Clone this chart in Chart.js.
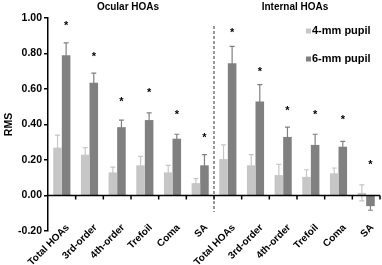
<!DOCTYPE html>
<html>
<head>
<meta charset="utf-8">
<script src="https://cdn.jsdelivr.net/npm/chart.js@4/dist/chart.umd.min.js"></script>
<style>
  html, body { margin: 0; padding: 0; background: #fff; }
  #wrap { width: 382px; height: 265px; }
</style>
</head>
<body>
<div id="wrap"><canvas id="c" width="382" height="265"></canvas></div>
<script>
// categories: 6 ocular, then 6 internal
const labels = ["Total HOAs", "3rd-order", "4th-order", "Trefoil", "Coma", "SA",
                "Total HOAs", "3rd-order", "4th-order", "Trefoil", "Coma", "SA"];
const groupTitles = ["Ocular HOAs", "Internal HOAs"];

const pupil4 = [0.27, 0.23, 0.13, 0.17, 0.13, 0.07, 0.205, 0.17, 0.115, 0.105, 0.125, 0.015];
const pupil4Err = [0.07, 0.04, 0.03, 0.05, 0.04, 0.025, 0.08, 0.06, 0.06, 0.04, 0.03, 0.045];
const pupil6 = [0.79, 0.635, 0.385, 0.425, 0.32, 0.17, 0.745, 0.53, 0.33, 0.285, 0.275, -0.06];
const pupil6Err = [0.07, 0.055, 0.04, 0.04, 0.025, 0.06, 0.095, 0.095, 0.055, 0.06, 0.03, 0.023];

// height of the significance asterisk above each pair
const starY = [0.97, 0.80, 0.545, 0.595, 0.47, 0.34, 0.93, 0.715, 0.495, 0.47, 0.445, 0.19];

const light = "#c6c6c6";
const dark = "#808080";
const font = "'Liberation Sans', Arial, sans-serif";

const errorBars = {
  id: "errorBars",
  beforeDatasetsDraw(chart) {
    const ctx = chart.ctx;
    const y = chart.scales.y;
    chart.data.datasets.forEach((ds, di) => {
      const meta = chart.getDatasetMeta(di);
      ctx.save();
      ctx.strokeStyle = ds.errColor;
      ctx.lineWidth = 1.2;
      meta.data.forEach((bar, i) => {
        const v = ds.data[i], e = ds.err[i];
        const top = y.getPixelForValue(v + e);
        const bot = y.getPixelForValue(v - e);
        ctx.beginPath();
        ctx.moveTo(bar.x, top); ctx.lineTo(bar.x, bot);
        ctx.moveTo(bar.x - 2.5, top); ctx.lineTo(bar.x + 2.5, top);
        ctx.moveTo(bar.x - 2.5, bot); ctx.lineTo(bar.x + 2.5, bot);
        ctx.stroke();
      });
      ctx.restore();
    });
  },
  afterDraw(chart) {
    const ctx = chart.ctx;
    const x = chart.scales.x, y = chart.scales.y;
    const area = chart.chartArea;
    const step = x.getPixelForValue(1) - x.getPixelForValue(0);
    ctx.save();

    // zero line with category boundary ticks
    const y0 = y.getPixelForValue(0);
    ctx.strokeStyle = "#000";
    ctx.lineWidth = 1.5;
    ctx.beginPath();
    ctx.moveTo(area.left, y0); ctx.lineTo(area.right, y0);
    for (let i = 1; i <= labels.length; i++) {
      const bx = x.getPixelForValue(i - 1) + step / 2;
      ctx.moveTo(bx, y0); ctx.lineTo(bx, y0 + 4);
    }
    ctx.stroke();

    // dashed separator between the two groups
    const sx = x.getPixelForValue(5) + step / 2;
    ctx.setLineDash([3, 2]);
    ctx.lineWidth = 1;
    ctx.strokeStyle = "#333";
    ctx.beginPath();
    ctx.moveTo(sx, 26); ctx.lineTo(sx, 212);
    ctx.stroke();
    ctx.setLineDash([]);

    // category labels, rotated
    ctx.fillStyle = "#000";
    ctx.font = "bold 10px " + font;
    ctx.textAlign = "right";
    ctx.textBaseline = "middle";
    labels.forEach((lab, i) => {
      ctx.save();
      ctx.translate(x.getPixelForValue(i) + 6, area.bottom - 5);
      ctx.rotate(-Math.PI / 4);
      ctx.fillText(lab, 0, 0);
      ctx.restore();
    });

    // asterisks
    const meta6 = chart.getDatasetMeta(1);
    ctx.font = "bold 11px " + font;
    ctx.textAlign = "center";
    meta6.data.forEach((bar, i) => {
      ctx.fillText("*", bar.x, y.getPixelForValue(starY[i]) + 3);
    });

    // group titles
    ctx.font = "bold 10px " + font;
    ctx.fillText(groupTitles[0], (x.getPixelForValue(0) + x.getPixelForValue(5)) / 2 - 3, 7);
    ctx.fillText(groupTitles[1], (x.getPixelForValue(6) + x.getPixelForValue(11)) / 2 - 2, 7);

    // legend
    ctx.font = "bold 11px " + font;
    ctx.textAlign = "left";
    chart.data.datasets.forEach((ds, di) => {
      const ly = 31 + di * 28;
      ctx.fillStyle = ds.backgroundColor;
      ctx.fillRect(306, ly - 2.5, 5, 5);
      ctx.fillStyle = "#000";
      ctx.fillText(ds.label, 312, ly);
    });
    ctx.restore();
  }
};

new Chart(document.getElementById("c"), {
  type: "bar",
  data: {
    labels: labels,
    datasets: [
      { label: "4-mm pupil", data: pupil4, err: pupil4Err, backgroundColor: light, errColor: light },
      { label: "6-mm pupil", data: pupil6, err: pupil6Err, backgroundColor: dark, errColor: dark }
    ]
  },
  options: {
    responsive: false,
    animation: false,
    devicePixelRatio: 1,
    layout: { padding: { top: 18, right: 2, left: 0, bottom: 0 } },
    datasets: { bar: { categoryPercentage: 0.62, barPercentage: 1, borderWidth: 0 } },
    plugins: { legend: { display: false }, tooltip: { enabled: false } },
    scales: {
      x: {
        grid: { display: false, drawTicks: false },
        border: { display: false },
        ticks: { display: false },
        afterFit: s => { s.height = 34; }
      },
      y: {
        min: -0.2, max: 1.0,
        grid: { drawOnChartArea: false, drawTicks: true, tickLength: 4, color: "#000", lineWidth: 1.5 },
        border: { color: "#000", width: 1.5 },
        ticks: {
          stepSize: 0.2, padding: 2, color: "#000",
          font: { family: font, size: 10.5, weight: "bold" },
          callback: v => (Math.abs(v) < 1e-9 ? 0 : v).toFixed(2)
        },
        title: {
          display: true, text: "RMS", color: "#000", padding: 3,
          font: { family: font, size: 10.5, weight: "bold" }
        },
        afterFit: s => { s.width = 48; }
      }
    }
  },
  plugins: [errorBars]
});
</script>
</body>
</html>
